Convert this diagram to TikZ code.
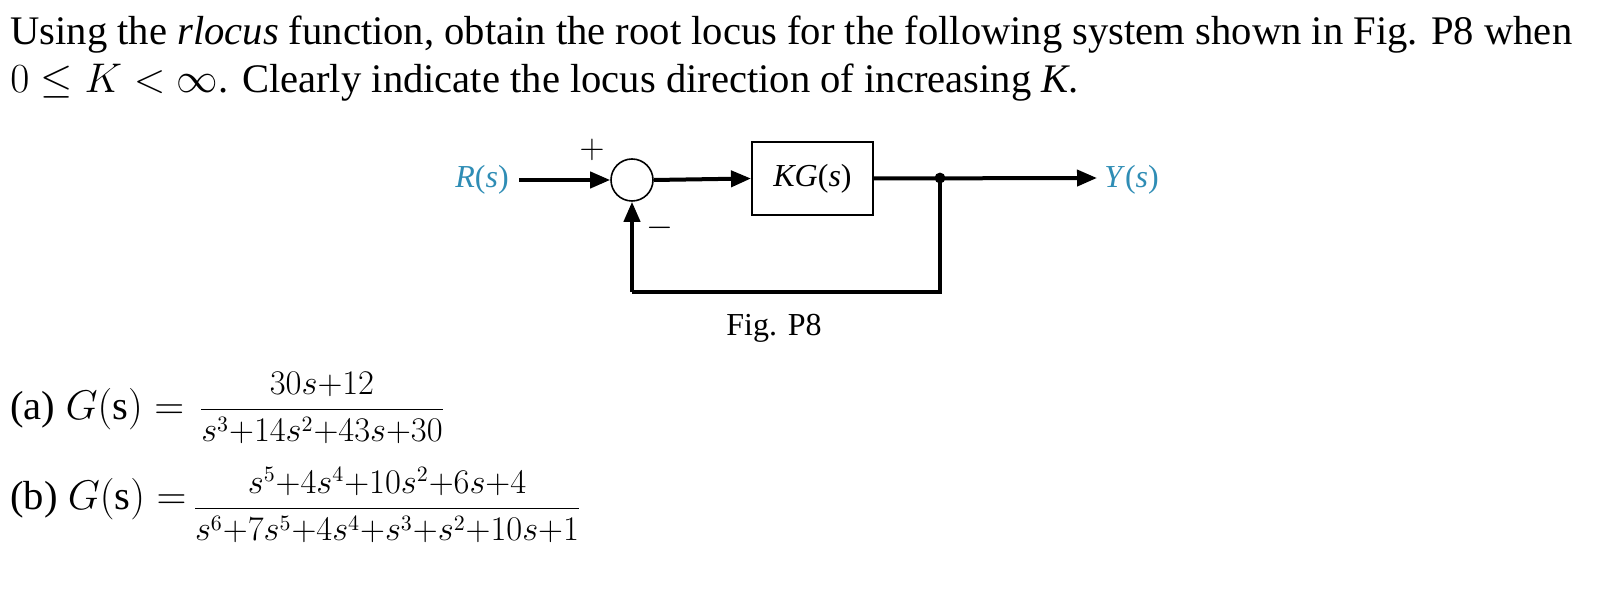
\documentclass[tikz,border=0pt]{standalone}
\usepackage{fontspec}
\setmainfont{Liberation Serif}
\usetikzlibrary{arrows.meta}
\definecolor{lab}{HTML}{2F8DB5}
\begin{document}
\begin{tikzpicture}[x=0.5pt,y=-0.5pt,
  txt/.style={font=\fontsize{20.3}{22}\selectfont,anchor=base west,inner sep=0},
  dia/.style={font=\fontsize{16}{18}\selectfont,inner sep=0},
  wire/.style={line width=2pt},
  arr/.style={wire,-{Triangle[length=10pt,width=8pt]}},
  eq/.style={font=\fontsize{20.3}{22}\selectfont,anchor=base west,inner sep=0}]
\useasboundingbox (0,0) rectangle (1607,592);
\node[txt] (l1) at (10,45) {Using the \textit{rlocus} function, obtain the root locus for the following system shown in Fig. P8 when};
\node[txt] (l2) at (10,93) {$0\le K<\infty$. Clearly indicate the locus direction of increasing \textit{K}.};
\node[dia,text=lab] (R) at (482,180) {\textit{R}(\textit{s})};
\node[draw,circle,minimum size=21pt,inner sep=0,line width=0.8pt] (S) at (632,180) {};
\node[draw,line width=1pt,minimum width=60.5pt,minimum height=36.5pt] (B) at (812.5,178.5) {\fontsize{16}{18}\selectfont\textit{KG}(\textit{s})};
\coordinate (J) at (940,178);
\coordinate (T) at (1097,178);
\node[dia,text=lab,anchor=west] (Y) at (1104,180) {\textit{Y}(\textit{s})};
\coordinate (C1) at (940,292);
\coordinate (C2) at (632,292);
\draw[arr] (R.east)++(10,0) -- (S.west);
\draw[arr] (S.east) -- (B.west);
\draw[arr] (B.east) -- (T);
\fill (J) circle (2.7pt);
\draw[wire] (J) -- (C1) -- (C2);
\draw[arr] (C2) -- (S.south);
\node[dia] (plus) at (592,150) {$+$};
\node[dia] (minus) at (660,228) {$-$};
\node[txt,font=\fontsize{16}{18}\selectfont] (fig) at (726,336) {Fig. P8};
% equations
\node[eq] (a) at (10,420) {(a)\ $G(\mathrm{s})=$};
\node[font=\fontsize{16}{18}\selectfont,inner sep=0] (fa) at (322,408) {$\displaystyle\frac{\ 30s{+}12\ }{s^3{+}14s^2{+}43s{+}30}$};
\node[eq] (b) at (10,510) {(b)\ $G(\mathrm{s})=$};
\node[font=\fontsize{16}{18}\selectfont,inner sep=0] (fb) at (387,505) {$\displaystyle\frac{s^5{+}4s^4{+}10s^2{+}6s{+}4}{s^6{+}7s^5{+}4s^4{+}s^3{+}s^2{+}10s{+}1}$};
\end{tikzpicture}
\end{document}
